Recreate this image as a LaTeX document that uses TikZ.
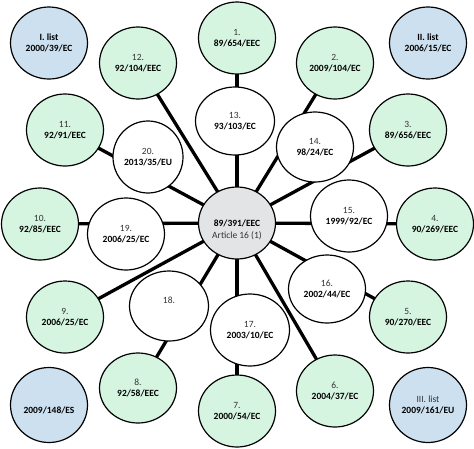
\documentclass[tikz,border=0pt]{standalone}
\usepackage{fontspec}
\setmainfont{Carlito}
\usetikzlibrary{shapes.geometric,backgrounds}
\definecolor{greenfill}{HTML}{D6F5E1}
\definecolor{bluefill}{HTML}{CCE0EF}
\definecolor{centerfill}{HTML}{E2E4E6}
\definecolor{numgray}{HTML}{333333}
\tikzset{
  bubble/.style={ellipse, draw=black, line width=1.2pt, inner sep=0pt,
    minimum width=77pt, minimum height=72pt, align=center,
    font=\fontsize{9.5}{11.5}\selectfont},
  greenb/.style={bubble, fill=greenfill},
  blueb/.style={bubble, fill=bluefill},
  whiteb/.style={bubble, fill=white},
  centerb/.style={bubble, fill=centerfill},
  spoke/.style={line width=3.3pt, black},
  plain/.style={inner sep=0pt, align=center, font=\fontsize{9.5}{11.5}\selectfont},
}
\newcommand{\twol}[2]{{\color{numgray}#1}\\\textbf{#2}}
\begin{document}
\begin{tikzpicture}[x=1pt,y=-1pt]
\useasboundingbox (0,0) rectangle (474,448);
% lists
\node[blueb] (l1) at (49,43) {\textbf{I. list}\\\textbf{2000/39/EC}};
\node[blueb] (l2) at (428,43) {\textbf{II. list}\\\textbf{2006/15/EC}};
\node[blueb, minimum height=75pt] (l3) at (428,405) {\twol{III. list}{2009/161/EU}};
\node[blueb, minimum height=75pt] (l4) at (49,405) {\phantom{0}\\\textbf{2009/148/ES}};
% outer ring
\node[greenb] (g1) at (237,38) {\twol{1.}{89/654/EEC}};
\node[greenb] (g2) at (335,63) {\twol{2.}{2009/104/EC}};
\node[greenb] (g3) at (408,130) {\twol{3.}{89/656/EEC}};
\node[greenb] (g4) at (435,224) {\twol{4.}{90/269/EEC}};
\node[greenb] (g5) at (408,317) {\twol{5.}{90/270/EEC}};
\node[greenb] (g6) at (335,391) {\twol{6.}{2004/37/EC}};
\node[greenb] (g7) at (237,411) {\twol{7.}{2000/54/EC}};
\node[greenb, minimum height=70pt] (g8) at (138,388) {\twol{8.}{92/58/EEC}};
\node[greenb] (g9) at (65,317) {\twol{9.}{2006/25/EC}};
\node[greenb] (g10) at (40,224) {\twol{10.}{92/85/EEC}};
\node[greenb] (g11) at (65,130) {\twol{11.}{92/91/EEC}};
\node[greenb] (g12) at (138,63) {\twol{12.}{92/104/EEC}};
% inner ring
\node[whiteb, minimum width=79pt, minimum height=68pt] (w13) at (235,121) {\twol{13.}{93/103/EC}};
\node[whiteb, minimum height=70pt] (w14) at (315,147) {\twol{14.}{98/24/EC}};
\node[whiteb] (w15) at (349,216) {\twol{15.}{1999/92/EC}};
\node[whiteb, minimum height=68pt] (w16) at (327,289) {\twol{16.}{2002/44/EC}};
\node[whiteb, minimum width=79pt] (w17) at (250,330) {\twol{17.}{2003/10/EC}};
\node[whiteb, minimum width=79pt, minimum height=70pt] (w18) at (169,306) {{\color{numgray}18.}\\\phantom{0}};
\node[whiteb] (w19) at (126,234) {\twol{19.}{2006/25/EC}};
\node[whiteb, minimum width=70pt] (w20) at (148,157) {\twol{20.}{2013/35/EU}};
% centre
\node[centerb] (c) at (237,223) {};
\node[plain] (ct) at (237,230) {\textbf{89/391/EEC}\\{\color{numgray}Article 16 (1)}};
% spokes
\begin{scope}[on background layer]
  \foreach \i in {1,...,12} \draw[spoke] (c.center) -- (g\i.center);
\end{scope}
\end{tikzpicture}
\end{document}
